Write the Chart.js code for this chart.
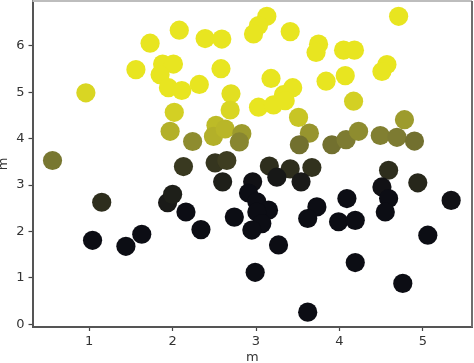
<!DOCTYPE html>
<html>
<head>
<meta charset="utf-8">
<script src="https://cdn.jsdelivr.net/npm/chart.js@4"></script>
<style>
  html, body { margin: 0; padding: 0; background: #fff; }
  #wrap { width: 474px; height: 363px; }
</style>
</head>
<body>
<div id="wrap"><canvas id="scatterChart" width="474" height="363"></canvas></div>
<script>
// point positions (m)
const xs = [
  0.96, 1.73, 2.08, 2.39, 2.59, 1.56, 1.88, 2.01, 1.85, 1.95,
  2.11, 2.32, 2.58, 2.70, 2.69, 2.02, 3.13, 3.03, 2.97, 3.41,
  3.75, 3.72, 4.05, 4.18, 4.71, 4.57, 4.51, 3.18, 3.44, 3.84,
  4.07, 4.17, 3.33, 3.03, 3.21, 3.35, 3.51, 4.78,
  1.97, 2.24, 2.52, 2.49, 2.63, 2.83, 2.80, 3.64, 3.52, 3.91,
  4.08, 4.23, 4.49, 4.69, 4.90, 0.56,
  2.13, 2.51, 2.65, 3.16, 3.41, 3.67, 4.59,
  2.60, 2.96, 3.25, 3.54, 4.94, 1.15, 1.94, 2.00, 1.04,
  1.44, 1.63, 2.16, 2.34, 2.74, 2.91, 3.01, 3.15, 3.01, 3.07,
  2.95, 3.27, 2.99, 3.62, 3.73, 3.62, 5.34, 4.51, 4.59, 4.55,
  4.09, 3.99, 4.19, 5.06, 4.19, 4.76
];
const ys = [
  4.99, 6.06, 6.34, 6.16, 6.15, 5.49, 5.61, 5.61, 5.38, 5.10,
  5.04, 5.17, 5.51, 4.97, 4.62, 4.57, 6.64, 6.44, 6.26, 6.31,
  6.04, 5.86, 5.91, 5.91, 6.64, 5.60, 5.45, 5.30, 5.10, 5.24,
  5.36, 4.81, 4.95, 4.68, 4.73, 4.82, 4.46, 4.41,
  4.16, 3.94, 4.29, 4.05, 4.21, 4.11, 3.93, 4.12, 3.87, 3.87,
  3.98, 4.16, 4.07, 4.03, 3.95, 3.53,
  3.40, 3.48, 3.53, 3.41, 3.35, 3.38, 3.32,
  3.07, 3.07, 3.17, 3.07, 3.05, 2.63, 2.62, 2.80, 1.81,
  1.68, 1.94, 2.42, 2.04, 2.31, 2.83, 2.64, 2.46, 2.42, 2.17,
  2.03, 1.71, 1.12, 0.26, 2.53, 2.28, 2.67, 2.96, 2.71, 2.42,
  2.71, 2.21, 2.24, 1.92, 1.33, 0.88
];
// colour level of each point, 0 = black .. 1 = yellow
const shade = [
  0.93, 1, 1, 1, 1, 1, 1, 1, 1, 1,
  1, 1, 1, 0.97, 0.93, 0.9, 1, 1, 1, 1,
  1, 1, 1, 1, 1, 1, 1, 1, 1, 1,
  1, 0.9, 1, 1, 1, 1, 0.85, 0.65,
  0.75, 0.58, 0.8, 0.75, 0.78, 0.65, 0.55, 0.62, 0.45, 0.45,
  0.5, 0.58, 0.52, 0.5, 0.45, 0.48,
  0.2, 0.18, 0.22, 0.15, 0.15, 0.17, 0.15,
  0.08, 0.02, 0.05, 0.06, 0.12, 0.15, 0.06, 0.08, 0,
  0, 0, 0, 0, 0, 0, 0, 0, 0, 0,
  0, 0, 0, 0, 0, 0, 0.02, 0.02, 0, 0,
  0, 0, 0, 0, 0, 0
];
const xTicks = [1, 2, 3, 4, 5];
const yTicks = [0, 1, 2, 3, 4, 5, 6];

// black -> olive -> yellow
function levelColor(t) {
  const stops = [[12, 13, 20], [125, 123, 50], [232, 229, 32]];
  let a, b, f;
  if (t <= 0.5) { a = stops[0]; b = stops[1]; f = t / 0.5; }
  else { a = stops[1]; b = stops[2]; f = (t - 0.5) / 0.5; }
  const c = a.map((v, i) => Math.round(v + (b[i] - v) * f));
  return `rgb(${c[0]}, ${c[1]}, ${c[2]})`;
}

const points = xs.map((x, i) => ({ x: x, y: ys[i] }));
const colors = shade.map(levelColor);

// top and right frame lines
const framePlugin = {
  id: 'frame',
  afterDraw(chart) {
    const a = chart.chartArea;
    const c = chart.ctx;
    c.save();
    c.lineWidth = 2;
    c.strokeStyle = '#bdbdbd';
    c.beginPath();
    c.moveTo(a.left, a.top);
    c.lineTo(a.right, a.top);
    c.stroke();
    c.strokeStyle = '#6e6e6e';
    c.beginPath();
    c.moveTo(a.right, a.top);
    c.lineTo(a.right, a.bottom);
    c.stroke();
    c.restore();
  }
};

const tickFont = { family: 'DejaVu Sans', size: 13 };
const ctx = document.getElementById('scatterChart').getContext('2d');
const chart = new Chart(ctx, {
  type: 'scatter',
  data: {
    datasets: [{
      data: points,
      backgroundColor: colors,
      borderWidth: 0,
      pointRadius: 9.6,
      pointHoverRadius: 9.6
    }]
  },
  options: {
    responsive: false,
    animation: false,
    layout: { autoPadding: false, padding: { top: 1, right: 2, left: 0, bottom: 0 } },
    plugins: { legend: { display: false }, tooltip: { enabled: false } },
    scales: {
      x: {
        type: 'linear',
        min: 0.32,
        max: 5.59,
        afterBuildTicks: s => { s.ticks = xTicks.map(v => ({ value: v })); },
        afterFit: s => { s.height = 36; s.paddingLeft = 0; s.paddingRight = 0; },
        ticks: { font: tickFont, color: '#333', padding: 3, maxRotation: 0 },
        grid: { drawOnChartArea: false, drawTicks: true, tickLength: 4, tickWidth: 1.2, tickColor: '#444' },
        border: { display: true, color: '#555', width: 2 },
        title: { display: true, text: 'm', font: tickFont, color: '#333', padding: { top: 0, bottom: -2.5 } }
      },
      y: {
        type: 'linear',
        min: -0.06,
        max: 6.97,
        afterBuildTicks: s => { s.ticks = yTicks.map(v => ({ value: v })); },
        afterFit: s => { s.width = 32.5; s.paddingTop = 0; s.paddingBottom = 0; },
        ticks: { font: tickFont, color: '#333', padding: 4 },
        grid: { drawOnChartArea: false, drawTicks: true, tickLength: 4, tickWidth: 1.2, tickColor: '#444' },
        border: { display: true, color: '#555', width: 2 },
        title: { display: true, text: 'm', font: tickFont, color: '#333', padding: { top: -4, bottom: 0 } }
      }
    }
  },
  plugins: [framePlugin]
});
</script>
</body>
</html>
